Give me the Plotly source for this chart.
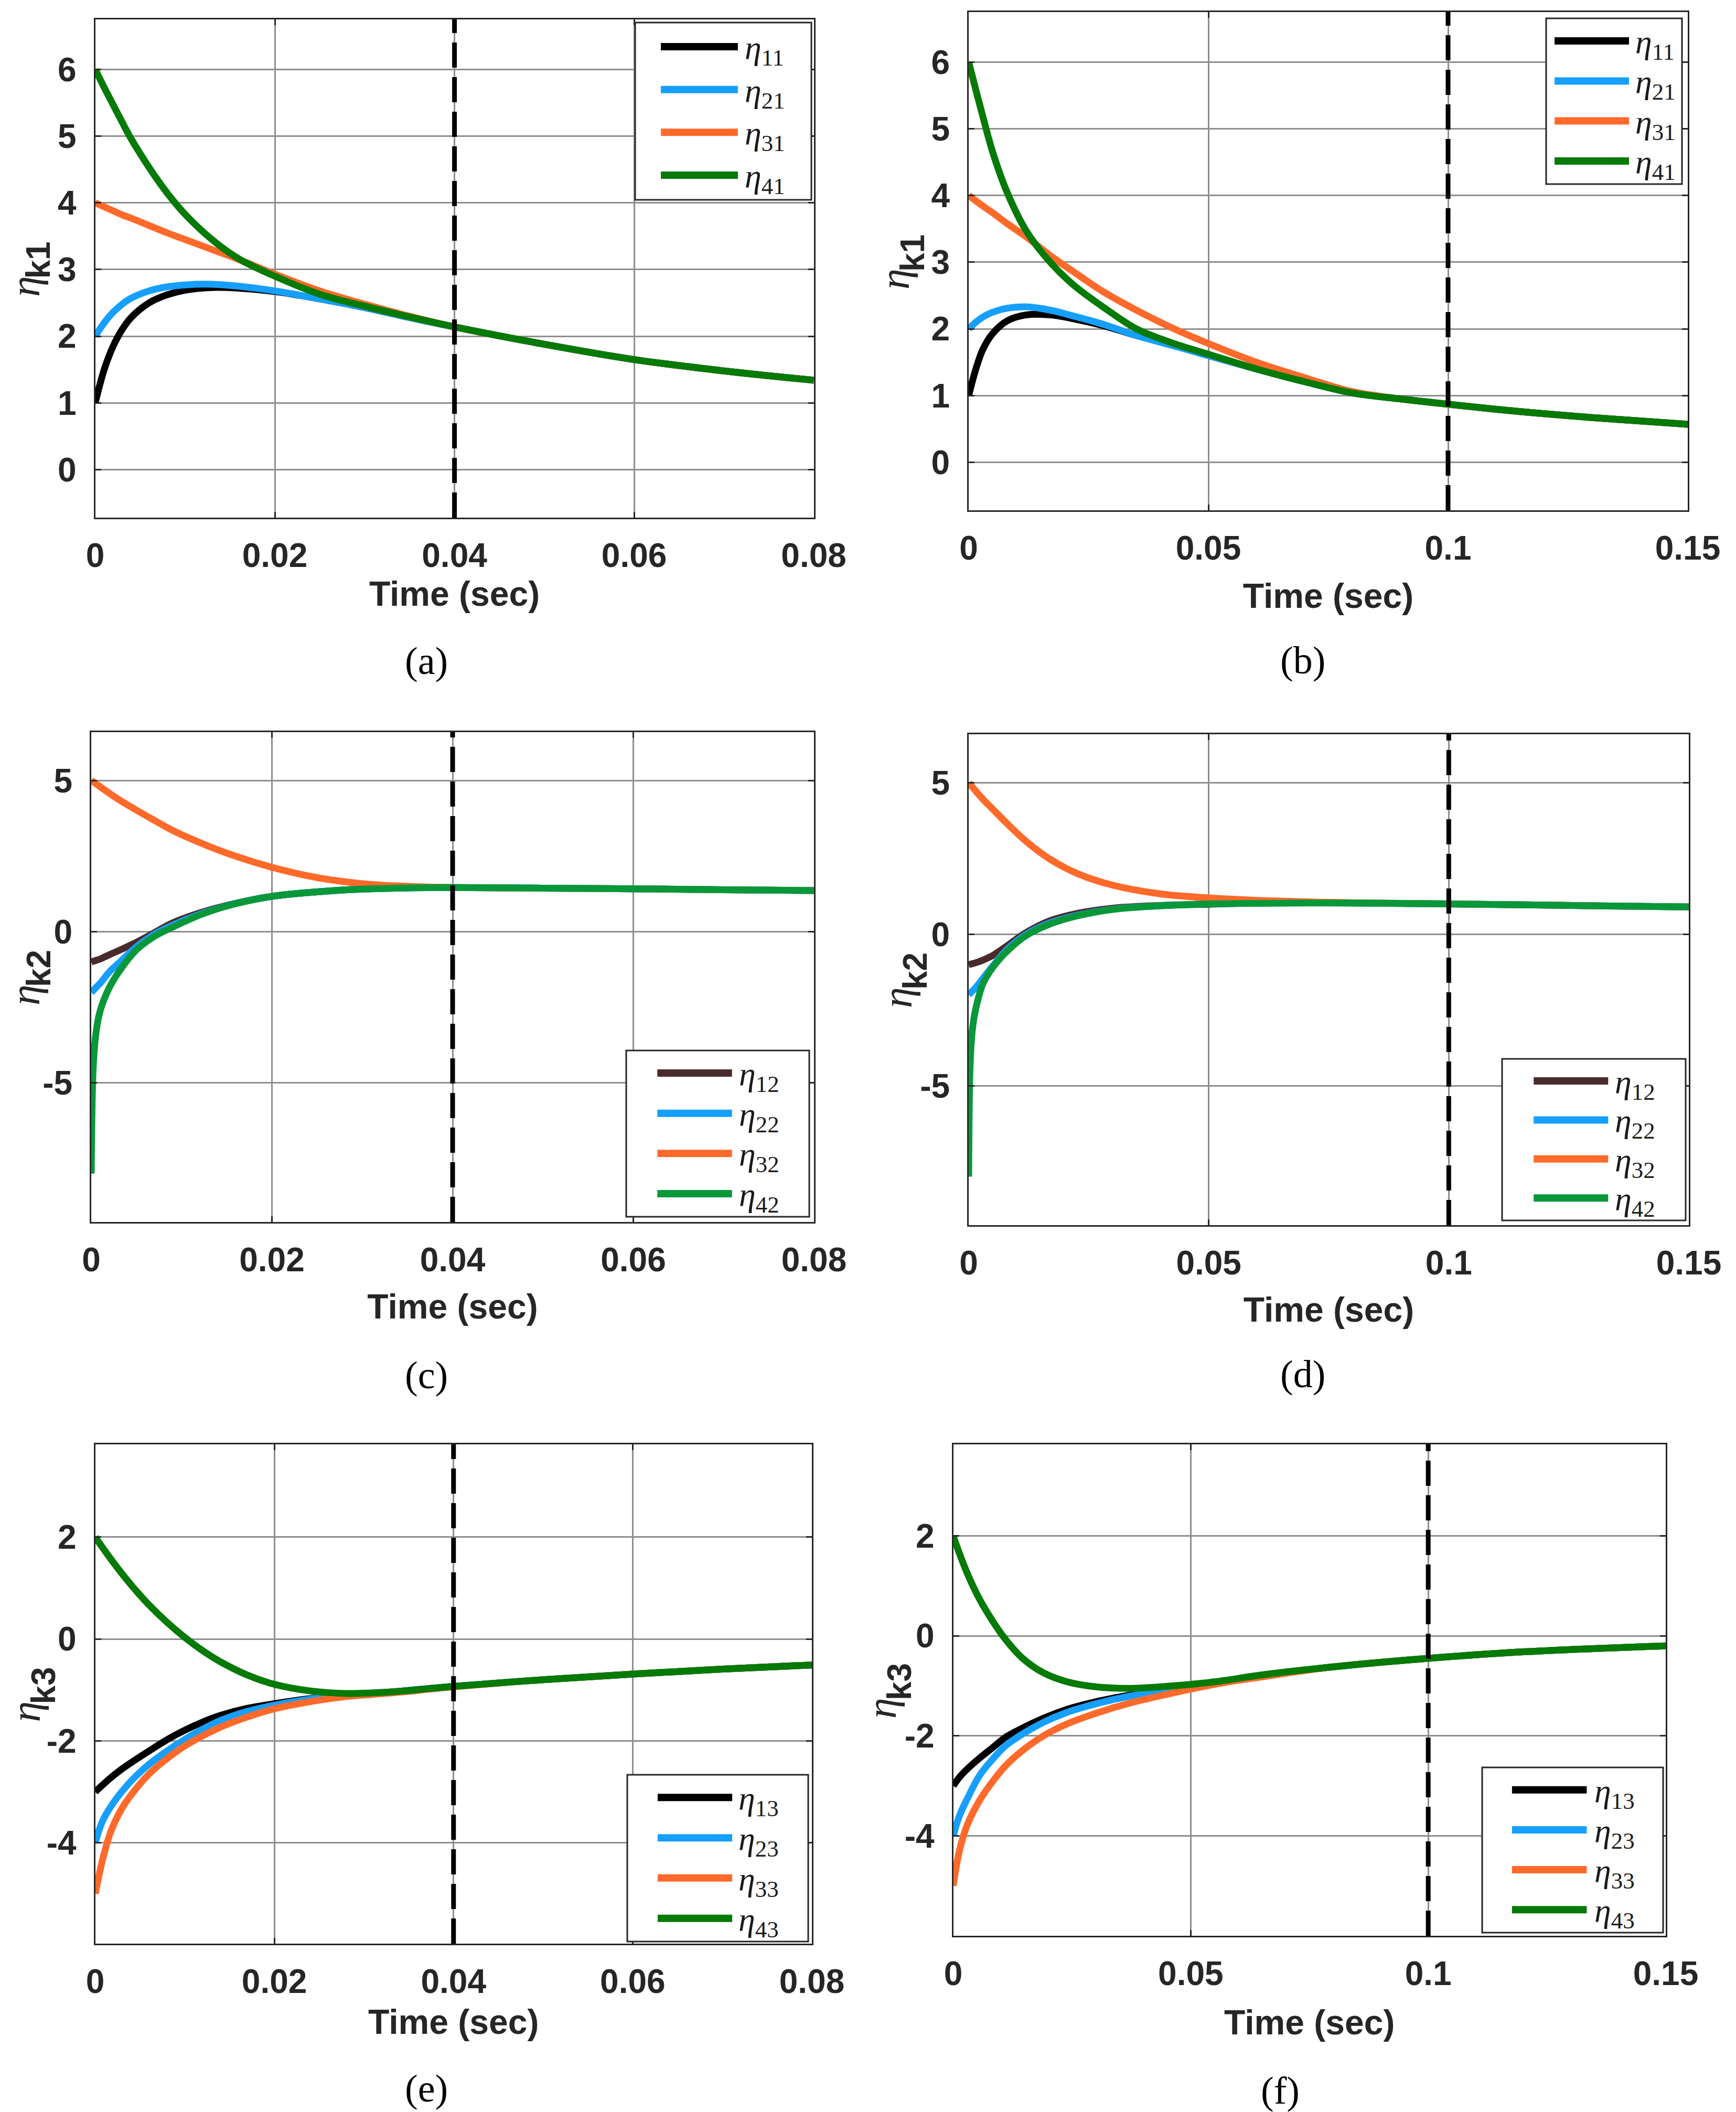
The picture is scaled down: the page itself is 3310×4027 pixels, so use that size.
import plotly.graph_objects as go

W, H = 3310, 4027

# ---- panel (a): eta_k1, short horizon ----
t_a = [0, 0.001, 0.002, 0.003, 0.004, 0.006, 0.008, 0.010, 0.013, 0.016, 0.020, 0.025, 0.030, 0.035, 0.040, 0.050, 0.060, 0.070, 0.080]
eta11_a = [1.00, 1.50, 1.85, 2.10, 2.28, 2.50, 2.62, 2.69, 2.73, 2.72, 2.67, 2.56, 2.43, 2.28, 2.14, 1.88, 1.65, 1.48, 1.34]
eta21_a = [2.00, 2.20, 2.36, 2.48, 2.57, 2.68, 2.74, 2.77, 2.78, 2.75, 2.68, 2.56, 2.43, 2.28, 2.14, 1.88, 1.65, 1.48, 1.34]
eta31_a = [4.00, 3.94, 3.88, 3.82, 3.77, 3.66, 3.55, 3.45, 3.30, 3.15, 2.93, 2.68, 2.48, 2.30, 2.14, 1.88, 1.65, 1.48, 1.34]
eta41_a = [6.00, 5.73, 5.47, 5.21, 4.96, 4.53, 4.15, 3.83, 3.45, 3.16, 2.90, 2.63, 2.45, 2.29, 2.14, 1.88, 1.65, 1.48, 1.34]

# ---- panel (b): eta_k1, long horizon ----
t_b = [0, 0.0015, 0.003, 0.005, 0.008, 0.012, 0.017, 0.022, 0.028, 0.035, 0.042, 0.050, 0.060, 0.070, 0.080, 0.090, 0.100, 0.115, 0.130, 0.150]
eta11_b = [1.00, 1.40, 1.70, 1.93, 2.12, 2.21, 2.21, 2.15, 2.05, 1.90, 1.77, 1.60, 1.40, 1.21, 1.04, 0.95, 0.87, 0.76, 0.67, 0.57]
eta21_b = [2.00, 2.10, 2.18, 2.25, 2.31, 2.33, 2.28, 2.19, 2.07, 1.90, 1.76, 1.60, 1.40, 1.21, 1.04, 0.95, 0.87, 0.76, 0.67, 0.57]
eta31_b = [4.00, 3.92, 3.84, 3.74, 3.58, 3.38, 3.10, 2.85, 2.56, 2.28, 2.03, 1.78, 1.50, 1.27, 1.06, 0.95, 0.87, 0.76, 0.67, 0.57]
eta41_b = [6.00, 5.58, 5.17, 4.65, 4.05, 3.47, 3.00, 2.65, 2.33, 2.00, 1.80, 1.62, 1.40, 1.21, 1.04, 0.95, 0.87, 0.76, 0.67, 0.57]

# ---- panel (c): eta_k2, short horizon ----
t_c = [0, 0.0002, 0.0005, 0.001, 0.002, 0.003, 0.005, 0.007, 0.009, 0.012, 0.015, 0.020, 0.025, 0.030, 0.035, 0.040, 0.050, 0.060, 0.070, 0.080]
eta12_c = [-1.00, -0.98, -0.95, -0.90, -0.76, -0.63, -0.35, -0.03, 0.29, 0.62, 0.87, 1.17, 1.32, 1.41, 1.45, 1.46, 1.44, 1.42, 1.39, 1.36]
eta22_c = [-2.00, -1.95, -1.85, -1.70, -1.33, -1.05, -0.50, -0.08, 0.22, 0.58, 0.86, 1.17, 1.32, 1.41, 1.45, 1.46, 1.44, 1.42, 1.39, 1.36]
eta32_c = [5.00, 4.96, 4.90, 4.79, 4.58, 4.38, 4.02, 3.68, 3.35, 2.95, 2.60, 2.13, 1.79, 1.59, 1.50, 1.46, 1.44, 1.42, 1.39, 1.36]
eta42_c = [-8.00, -4.60, -3.40, -2.60, -1.85, -1.35, -0.60, -0.15, 0.15, 0.55, 0.85, 1.17, 1.32, 1.41, 1.45, 1.46, 1.44, 1.42, 1.39, 1.36]

# ---- panel (d): eta_k2, long horizon ----
t_d = [0, 0.0003, 0.0008, 0.0015, 0.003, 0.005, 0.008, 0.012, 0.017, 0.023, 0.030, 0.040, 0.050, 0.060, 0.070, 0.080, 0.100, 0.120, 0.150]
eta12_d = [-1.00, -0.99, -0.97, -0.94, -0.85, -0.70, -0.38, 0.06, 0.45, 0.70, 0.86, 0.95, 0.99, 1.03, 1.04, 1.03, 1.00, 0.96, 0.90]
eta22_d = [-2.00, -1.95, -1.87, -1.75, -1.45, -1.05, -0.50, 0.00, 0.38, 0.64, 0.83, 0.94, 1.00, 1.03, 1.04, 1.03, 1.00, 0.96, 0.90]
eta32_d = [5.00, 4.94, 4.85, 4.72, 4.45, 4.13, 3.65, 3.06, 2.47, 1.98, 1.62, 1.33, 1.20, 1.12, 1.07, 1.04, 1.00, 0.96, 0.90]
eta42_d = [-8.00, -4.30, -3.10, -2.44, -1.62, -1.10, -0.56, -0.04, 0.34, 0.62, 0.82, 0.94, 1.00, 1.02, 1.03, 1.03, 1.00, 0.96, 0.90]

# ---- panel (e): eta_k3, short horizon ----
t_e = [0, 0.0008, 0.0017, 0.003, 0.0045, 0.006, 0.008, 0.010, 0.012, 0.014, 0.017, 0.020, 0.024, 0.028, 0.033, 0.040, 0.050, 0.060, 0.070, 0.080]
eta13_e = [-3.00, -2.87, -2.73, -2.55, -2.37, -2.20, -1.98, -1.79, -1.63, -1.50, -1.36, -1.27, -1.17, -1.10, -1.04, -0.93, -0.80, -0.69, -0.59, -0.51]
eta23_e = [-4.00, -3.58, -3.30, -2.99, -2.70, -2.46, -2.20, -1.97, -1.77, -1.60, -1.42, -1.30, -1.18, -1.10, -1.04, -0.93, -0.80, -0.69, -0.59, -0.51]
eta33_e = [-5.00, -4.35, -3.80, -3.32, -2.95, -2.65, -2.35, -2.10, -1.90, -1.73, -1.53, -1.37, -1.23, -1.13, -1.06, -0.94, -0.80, -0.69, -0.59, -0.51]
eta43_e = [2.00, 1.80, 1.58, 1.28, 0.96, 0.67, 0.33, 0.03, -0.23, -0.45, -0.71, -0.89, -1.02, -1.07, -1.04, -0.93, -0.80, -0.69, -0.59, -0.51]

# ---- panel (f): eta_k3, long horizon ----
t_f = [0, 0.0013, 0.003, 0.0055, 0.008, 0.011, 0.0145, 0.019, 0.024, 0.030, 0.037, 0.045, 0.055, 0.065, 0.080, 0.100, 0.120, 0.150]
eta13_f = [-3.00, -2.83, -2.66, -2.45, -2.26, -2.03, -1.85, -1.65, -1.47, -1.32, -1.19, -1.07, -0.93, -0.80, -0.62, -0.45, -0.32, -0.20]
eta23_f = [-4.00, -3.60, -3.25, -2.80, -2.50, -2.20, -1.97, -1.73, -1.53, -1.36, -1.21, -1.09, -0.94, -0.80, -0.62, -0.45, -0.32, -0.20]
eta33_f = [-5.00, -4.30, -3.77, -3.30, -2.95, -2.60, -2.30, -2.00, -1.76, -1.55, -1.35, -1.17, -0.97, -0.82, -0.62, -0.45, -0.32, -0.20]
eta43_f = [2.00, 1.65, 1.24, 0.74, 0.34, -0.07, -0.44, -0.74, -0.92, -1.02, -1.05, -1.01, -0.92, -0.78, -0.62, -0.45, -0.32, -0.20]

# tick labels and markers
xticks_short = [0, 0.02, 0.04, 0.06, 0.08]
xticks_long = [0, 0.05, 0.1, 0.15]
xticktext_short = ["0", "0.02", "0.04", "0.06", "0.08"]
xticktext_long = ["0", "0.05", "0.1", "0.15"]
yticks_1 = [0, 1, 2, 3, 4, 5, 6]
yticks_2 = [-5, 0, 5]
yticks_3 = [-4, -2, 0, 2]
yticktext_1 = ["0", "1", "2", "3", "4", "5", "6"]
yticktext_2 = ["-5", "0", "5"]
yticktext_3 = ["-4", "-2", "0", "2"]
mark_short = 0.04
mark_long = 0.1

subs_1 = ["11", "21", "31", "41"]
subs_2 = ["12", "22", "32", "42"]
subs_3 = ["13", "23", "33", "43"]

BLACK = "#000000"
BLUE = "#169FFF"
ORANGE = "#FF6A2B"
GREEN = "#067A06"
GREEN2 = "#08983A"
BROWN = "#4A2B2B"
INK = "#262626"

cols_dark = [BLACK, BLUE, ORANGE, GREEN]
cols_c = [BROWN, BLUE, ORANGE, GREEN2]

# panel frames in pixels: left, right, top, bottom
panels = [
    dict(t=t_a, ys=[eta11_a, eta21_a, eta31_a, eta41_a], subs=subs_1, cols=cols_dark, k="k1",
         xr=[0, 0.08], yr=[-0.72, 6.75], xt=xticks_short, xtt=xticktext_short, yt=yticks_1, ytt=yticktext_1,
         mark=mark_short, box=(181.5, 1551.6, 37, 987), leg=(1211, 1547, 43, 381), sw=(0.146, 0.583, 0.616),
         ylab=123, cap="(a)", capxy=(813, 1260), standoff=12),
    dict(t=t_b, ys=[eta11_b, eta21_b, eta31_b, eta41_b], subs=subs_1, cols=cols_dark, k="k1",
         xr=[0, 0.15], yr=[-0.72, 6.75], xt=xticks_long, xtt=xticktext_long, yt=yticks_1, ytt=yticktext_1,
         mark=mark_long, box=(1847, 3218, 23, 973), leg=(2948, 3207, 35, 351), sw=(0.062, 0.61, 0.65),
         ylab=121, cap="(b)", capxy=(2484, 1259), standoff=34),
    dict(t=t_c, ys=[eta12_c, eta22_c, eta32_c, eta42_c], subs=subs_2, cols=cols_c, k="k2",
         xr=[0, 0.08], yr=[-9.6, 6.6], xt=xticks_short, xtt=xticktext_short, yt=yticks_2, ytt=yticktext_2,
         mark=mark_short, box=(174, 1552, 1396, 2330), leg=(1194, 1543, 2003, 2320), sw=(0.17, 0.578, 0.61),
         ylab=114, cap="(c)", capxy=(813, 2622), standoff=32),
    dict(t=t_d, ys=[eta12_d, eta22_d, eta32_d, eta42_d], subs=subs_2, cols=cols_c, k="k2",
         xr=[0, 0.15], yr=[-9.6, 6.6], xt=xticks_long, xtt=xticktext_long, yt=yticks_2, ytt=yticktext_2,
         mark=mark_long, box=(1847, 3220, 1400, 2336), leg=(2864, 3214, 2019, 2327), sw=(0.172, 0.578, 0.608),
         ylab=116, cap="(d)", capxy=(2484, 2620), standoff=32),
    dict(t=t_e, ys=[eta13_e, eta23_e, eta33_e, eta43_e], subs=subs_3, cols=cols_dark, k="k3",
         xr=[0, 0.08], yr=[-5.98, 3.82], xt=xticks_short, xtt=xticktext_short, yt=yticks_3, ytt=yticktext_3,
         mark=mark_short, box=(181.5, 1548, 2754, 3706), leg=(1196, 1541, 3384, 3702), sw=(0.168, 0.58, 0.61),
         ylab=113, cap="(e)", capxy=(813, 3982), standoff=20),
    dict(t=t_f, ys=[eta13_f, eta23_f, eta33_f, eta43_f], subs=subs_3, cols=cols_dark, k="k3",
         xr=[0, 0.15], yr=[-6.0, 3.83], xt=xticks_long, xtt=xticktext_long, yt=yticks_3, ytt=yticktext_3,
         mark=mark_long, box=(1817.5, 3176, 2754, 3691), leg=(2826, 3171, 3370, 3685), sw=(0.165, 0.578, 0.615),
         ylab=117, cap="(f)", capxy=(2441, 3986), standoff=36),
]

def px(x):
    return x / W

def py(y):
    return 1 - y / H

tickfont = dict(family="Liberation Sans, Arial, sans-serif", size=64, color=INK, weight="bold")
entry_pos = [0.136, 0.378, 0.619, 0.861]

fig = go.Figure()
layout = dict(width=W, height=H, margin=dict(l=0, r=0, t=0, b=0, pad=0, autoexpand=False),
              paper_bgcolor="white", plot_bgcolor="white", showlegend=False)
shapes = []
annotations = []

for i, p in enumerate(panels, start=1):
    xn = "x" if i == 1 else f"x{i}"
    yn = "y" if i == 1 else f"y{i}"
    xk = "xaxis" if i == 1 else f"xaxis{i}"
    yk = "yaxis" if i == 1 else f"yaxis{i}"
    L, R, T, B = p["box"]

    for vals, col, s in zip(p["ys"], p["cols"], p["subs"]):
        fig.add_trace(go.Scatter(x=p["t"], y=vals, mode="lines", name=f"η{s}",
                                 line=dict(color=col, width=13, shape="spline", smoothing=1.0),
                                 xaxis=xn, yaxis=yn, hoverinfo="skip"))

    common = dict(showgrid=True, gridcolor="#8e8e8e", gridwidth=2.5, zeroline=False,
                  showline=True, linecolor=INK, linewidth=3, mirror="ticks", automargin=False,
                  ticks="inside", ticklen=11, tickwidth=3, tickcolor=INK, tickfont=tickfont)
    layout[xk] = dict(common, domain=[px(L), px(R)], anchor=yn, range=p["xr"],
                      tickmode="array", tickvals=p["xt"], ticktext=p["xtt"], ticklabelstandoff=14,
                      title=dict(text="Time (sec)", standoff=p["standoff"],
                                 font=dict(family="Liberation Sans, Arial, sans-serif", size=66,
                                           color=INK, weight="bold")))
    layout[yk] = dict(common, domain=[py(B), py(T)], anchor=xn, range=p["yr"],
                      tickmode="array", tickvals=p["yt"], ticktext=p["ytt"], ticklabelstandoff=20)

    # dashed marker at the convergence time
    shapes.append(dict(type="line", xref=xn, yref=f"{yn} domain", x0=p["mark"], x1=p["mark"],
                       y0=0, y1=1, line=dict(color="black", width=9, dash="48px,18px"), layer="above"))

    # legend box drawn MATLAB style (long swatches)
    lx0, lx1, ly0, ly1 = p["leg"]
    shapes.append(dict(type="rect", xref="paper", yref="paper", x0=px(lx0), x1=px(lx1),
                       y0=py(ly1), y1=py(ly0), fillcolor="white",
                       line=dict(color=INK, width=3), layer="above"))
    s0, s1, tx = p["sw"]
    lw = lx1 - lx0
    lh = ly1 - ly0
    for f, col, s in zip(entry_pos, p["cols"], p["subs"]):
        ey = ly0 + f * lh
        shapes.append(dict(type="line", xref="paper", yref="paper",
                           x0=px(lx0 + s0 * lw), x1=px(lx0 + s1 * lw), y0=py(ey), y1=py(ey),
                           line=dict(color=col, width=14), layer="above"))
        annotations.append(dict(xref="paper", yref="paper", x=px(lx0 + tx * lw), y=py(ey + 6),
                                xanchor="left", yanchor="middle", showarrow=False,
                                text=f"<i>η</i><sub>{s}</sub>",
                                font=dict(family="Liberation Serif, Times New Roman, serif", size=64, color="#1a1a1a")))

    # y label: eta (serif italic) with bold k-index
    cy = (T + B) / 2
    off = p["ylab"]
    annotations.append(dict(xref="paper", yref="paper", x=px(max(L - off - 20, 48)), y=py(cy + 34),
                            xanchor="center", yanchor="middle", showarrow=False, textangle=-90,
                            text="<i>η</i>",
                            font=dict(family="Liberation Serif, Times New Roman, serif", size=80, color=INK)))
    annotations.append(dict(xref="paper", yref="paper", x=px(L - off + 14), y=py(cy - 16),
                            xanchor="center", yanchor="middle", showarrow=False, textangle=-90,
                            text=f"<b>{p['k']}</b>",
                            font=dict(family="Liberation Sans, Arial, sans-serif", size=64, color=INK)))

    # sub-figure caption
    cx, cyy = p["capxy"]
    annotations.append(dict(xref="paper", yref="paper", x=px(cx), y=py(cyy),
                            xanchor="center", yanchor="middle", showarrow=False, text=p["cap"],
                            font=dict(family="Liberation Serif, Times New Roman, serif", size=74, color="black")))

layout["shapes"] = shapes
layout["annotations"] = annotations
fig.update_layout(**layout)

# drop the default page margin so the figure sits flush in the window
page_fix = ("document.documentElement.style.margin='0';document.body.style.margin='0';"
            "document.documentElement.style.overflow='hidden';document.body.style.overflow='hidden';")
fig.write_html("out.html", post_script=page_fix, config={"displayModeBar": False})
